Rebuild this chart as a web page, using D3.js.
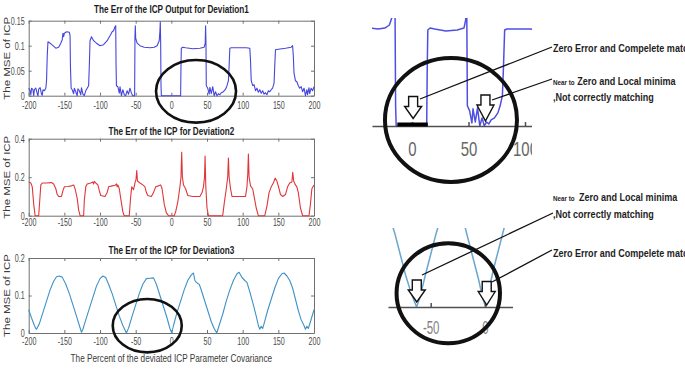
<!DOCTYPE html>
<html>
<head>
<meta charset="utf-8">
<script src="https://cdn.jsdelivr.net/npm/d3@7"></script>
<style>
    body { margin: 0; background: #fff; }
    svg { display: block; }
    text { font-family: "Liberation Sans", Arial, sans-serif; }
    .axis text { font-family: "Liberation Sans", Arial, sans-serif; font-size: 10.5px; fill: #4a4a4a; }
    .axis path, .axis line { stroke: #707070; }
    .title { font-weight: bold; font-size: 10.5px; fill: #1c1c1c; }
    .ylabel { font-size: 11.5px; fill: #3a3a3a; }
    .xlabel { font-size: 10.5px; fill: #3a3a3a; }
    .zoom-axis text { font-family: "Liberation Sans", Arial, sans-serif; }
    .zoom-axis path, .zoom-axis line { stroke: #505050; stroke-width: 1.5; }
    .note { font-weight: bold; font-size: 11.5px; fill: #1e1e1e; }
</style>
</head>
<body>
<div id="chart"></div>
<script>

// ---- values ----
const xTicks = [-200, -150, -100, -50, 0, 50, 100, 150, 200];
const yTicks1 = [0, 0.05, 0.1, 0.15];
const yTicks2 = [0, 0.2, 0.4];
const yTicks3 = [0, 0.1, 0.2];

const titles = [
    "The Err of the ICP Output for Deviation1",
    "The Err of the ICP for Deviation2",
    "The Err of the ICP for Deviation3"
];

// Deviation1 : [percent, MSE]
const dev1 = [
    [-200,0.015],[-198,0.01],[-197,0.002],[-196,0.015],[-194,0.012],[-193,0.0],[-192,0.012],[-190,0.015],
    [-188,0.004],[-187,0.0],[-186,0.013],[-184,0.016],[-182,0.003],[-181,0.001],[-180,0.012],[-178,0.01],
    [-176,0.015],[-175,0.03],[-174,0.08],[-173,0.108],[-170,0.105],[-166,0.1],[-162,0.095],[-158,0.097],
    [-155,0.105],[-153,0.112],[-152,0.125],[-151,0.118],[-150,0.125],[-147,0.128],[-143,0.127],[-142,0.12],
    [-141.5,0.06],[-140.5,0.015],[-139,0.012],[-137,0.004],[-136,0.015],[-134,0.008],[-132,0.0],[-131,0.014],
    [-129,0.01],[-127,0.002],[-126,0.016],[-124,0.003],[-122,0.0],[-120,0.01],[-118,0.015],[-116,0.02],
    [-115,0.06],[-114,0.11],[-112,0.118],[-109,0.11],[-105,0.105],[-100,0.1],[-95,0.102],[-90,0.11],
    [-86,0.12],[-83,0.128],[-81,0.13],[-79,0.138],[-78,0.14],[-77.5,0.06],[-77,0.02],[-75,0.018],
    [-73,0.005],[-72,0.018],[-70,0.0],[-68,0.012],[-66,0.002],[-64,0.0],[-62,0.01],[-60,0.003],
    [-58,0.015],[-56,0.005],[-54,0.0],[-51.5,0.0],[-51,0.12],[-50.5,0.14],[-50,0.115],[-48,0.105],
    [-44,0.1],[-38,0.097],[-30,0.096],[-24,0.097],[-20,0.1],[-17,0.11],[-16,0.13],[-15.5,0.148],
    [-15,0.11],[-14.5,0.02],[-14,0.0],[13,0.0],[13.5,0.06],[14,0.095],[16,0.097],[20,0.096],
    [30,0.094],[40,0.095],[46,0.097],[47.5,0.105],[48,0.14],[48.5,0.11],[49,0.02],[51,0.015],
    [53,0.003],[54,0.017],[56,0.004],[58,0.018],[60,0.0],[62,0.008],[64,0.0],[66,0.004],
    [68,0.002],[70,0.006],[73,0.008],[76,0.013],[78,0.02],[80,0.03],[81,0.06],[82,0.095],
    [84,0.096],[95,0.096],[105,0.096],[110,0.095],[111,0.07],[112,0.03],[114,0.02],[116,0.022],
    [118,0.01],[120,0.015],[122,0.007],[124,0.012],[126,0.005],[128,0.01],[130,0.003],[132,0.006],
    [134,0.002],[136,0.01],[138,0.008],[140,0.012],[142,0.015],[144,0.025],[145,0.06],[146,0.092],
    [150,0.093],[160,0.095],[168,0.097],[170,0.1],[171,0.08],[172,0.045],[174,0.03],[176,0.028],
    [178,0.02],[180,0.015],[182,0.018],[184,0.008],[186,0.015],[188,0.0],[190,0.012],[191,0.002],
    [193,0.016],[194,0.004],[196,0.015],[198,0.01],[200,0.018]
];

// Deviation2
const dev2 = [
    [-200,0.175],[-197,0.17],[-195,0.15],[-193,0.06],[-191,0.0],[-186,0.0],[-184.5,0.08],[-183,0.16],
    [-181,0.17],[-175,0.17],[-168,0.172],[-165,0.165],[-162,0.14],[-160,0.11],[-158,0.1],[-154,0.1],
    [-152,0.13],[-150,0.15],[-145,0.152],[-140,0.155],[-137,0.16],[-135,0.14],[-132,0.09],[-130,0.03],
    [-128,0.0],[-123,0.0],[-122,0.08],[-120,0.15],[-118,0.165],[-113,0.17],[-110,0.175],[-109,0.165],
    [-108,0.178],[-106,0.17],[-103,0.16],[-101,0.13],[-99,0.105],[-93,0.1],[-90,0.12],[-88,0.15],
    [-83,0.155],[-79,0.158],[-77,0.165],[-76,0.15],[-75,0.16],[-73,0.14],[-71,0.09],[-68,0.02],
    [-66,0.0],[-59,0.0],[-57,0.1],[-55.5,0.15],[-53,0.135],[-51,0.17],[-49.5,0.19],[-48.5,0.235],
    [-47.5,0.18],[-44,0.17],[-40,0.16],[-37,0.15],[-35,0.12],[-33,0.105],[-28,0.1],[-25,0.12],
    [-22,0.15],[-18,0.155],[-15,0.16],[-13,0.14],[-10,0.06],[-7,0.015],[-4,0.0],[4,0.0],
    [6,0.02],[9,0.07],[12,0.15],[13.5,0.2],[14.5,0.33],[15.5,0.2],[17,0.16],[20,0.14],
    [23,0.105],[30,0.1],[40,0.1],[43,0.12],[45,0.15],[46.5,0.2],[47.3,0.31],[48.3,0.15],
    [50,0.04],[52,0.0],[72,0.0],[74,0.06],[77,0.14],[79,0.2],[80,0.3],[81,0.2],
    [83,0.14],[85,0.1],[95,0.1],[104,0.1],[106,0.15],[107.2,0.22],[108,0.32],[109,0.2],
    [111,0.155],[114,0.14],[116,0.1],[119,0.04],[122,0.0],[131,0.0],[134,0.05],[137,0.12],
    [140,0.15],[143,0.17],[145.5,0.195],[148,0.18],[151,0.14],[153,0.11],[156,0.1],[160,0.11],
    [163,0.15],[166,0.17],[169,0.175],[170.2,0.225],[171.5,0.18],[174,0.16],[176,0.15],[178,0.12],
    [181,0.04],[184,0.0],[193,0.0],[195,0.06],[197,0.14],[200,0.16]
];

// Deviation3
const dev3 = [
    [-200,0.062],[-196,0.04],[-192,0.02],[-190,0.012],[-189,0.01],[-188,0.014],[-185,0.025],[-180,0.055],
    [-175,0.085],[-170,0.115],[-165,0.138],[-161,0.15],[-157,0.152],[-153,0.149],[-148,0.13],[-143,0.105],
    [-138,0.075],[-133,0.045],[-129,0.02],[-126,0.002],[-124,0.01],[-120,0.035],[-115,0.065],[-110,0.095],
    [-105,0.125],[-100,0.145],[-96,0.152],[-92,0.148],[-88,0.13],[-83,0.105],[-78,0.075],[-73,0.045],
    [-68,0.02],[-63,0.0],[-60,0.013],[-55,0.045],[-50,0.075],[-45,0.105],[-40,0.13],[-35,0.145],
    [-30,0.146],[-25,0.147],[-21,0.13],[-16,0.1],[-11,0.07],[-6,0.04],[-2,0.012],[0.6,0.0],
    [3,0.02],[8,0.055],[13,0.085],[18,0.115],[23,0.14],[28,0.155],[31,0.16],[33,0.14],
    [35,0.135],[37,0.132],[39,0.13],[41,0.12],[46,0.09],[51,0.06],[56,0.03],[60,0.012],
    [63.7,0.0],[67,0.02],[72,0.05],[77,0.085],[82,0.115],[87,0.14],[92,0.158],[95,0.162],
    [99,0.148],[103,0.14],[106,0.135],[110,0.11],[115,0.075],[119,0.045],[122,0.02],[124,0.01],
    [126,0.018],[128,0.012],[130,0.025],[135,0.06],[140,0.09],[145,0.12],[150,0.145],[155,0.158],
    [158,0.16],[162,0.152],[166,0.14],[170,0.12],[174,0.09],[178,0.06],[182,0.035],[186,0.02],
    [188,0.01],[190,0.018],[192,0.012],[195,0.03],[200,0.062]
];

// zoomed views
const zoomTicks1 = [0, 50, 100];
const zoomTicks3 = [-50, 0];
const zeroSpan = [-13, 14];


const W = 685, H = 370;
const svg = d3.select("#chart").append("svg")
    .attr("width", W)
    .attr("height", H);

svg.append("rect").attr("width", W).attr("height", H).attr("fill", "#fff");

// the source picture is squashed sideways, so squash the text the same way
function squeeze(sel, sx) {
    sel.each(function () {
        let t = d3.select(this);
        let x = +t.attr("x") || 0, y = +t.attr("y") || 0;
        t.attr("x", null).attr("y", null)
            .attr("transform", `translate(${x},${y}) scale(${sx},1)`);
    });
}


class ErrPanel {

    constructor(svg, box, data, opts) {
        this.svg = svg;
        this.box = box;
        this.data = data;
        this.opts = opts;
        this.initVis();
    }

    initVis() {
        let vis = this;
        vis.width = vis.box.right - vis.box.left;
        vis.height = vis.box.bottom - vis.box.top;

        vis.g = vis.svg.append("g")
            .attr("transform", `translate(${vis.box.left},${vis.box.top})`);

        vis.x = d3.scaleLinear().domain([-200, 200]).range([0, vis.width]);
        vis.y = d3.scaleLinear()
            .domain([0, d3.max(vis.opts.yTicks)])
            .range([vis.height, 0]);

        // matlab style box, ticks pointing inside
        let xb = vis.g.append("g").attr("class", "axis")
            .attr("transform", `translate(0,${vis.height})`)
            .call(d3.axisBottom(vis.x).tickValues(xTicks).tickSize(-3).tickSizeOuter(0)
                .tickPadding(vis.opts.pad).tickFormat(d => String(d)));
        vis.g.append("g").attr("class", "axis")
            .call(d3.axisTop(vis.x).tickValues(xTicks).tickSize(-3).tickSizeOuter(0).tickFormat(""));
        let yl = vis.g.append("g").attr("class", "axis")
            .call(d3.axisLeft(vis.y).tickValues(vis.opts.yTicks).tickSize(-3).tickSizeOuter(0)
                .tickPadding(4).tickFormat(d => String(d)));
        vis.g.append("g").attr("class", "axis")
            .attr("transform", `translate(${vis.width},0)`)
            .call(d3.axisRight(vis.y).tickValues(vis.opts.yTicks).tickSize(-3).tickSizeOuter(0).tickFormat(""));
        squeeze(xb.selectAll("text"), 0.68);
        squeeze(yl.selectAll("text"), 0.68);

        vis.line = d3.line()
            .x(d => vis.x(d[0]))
            .y(d => vis.y(d[1]));

        vis.g.append("path")
            .datum(vis.data)
            .attr("d", vis.line)
            .attr("fill", "none")
            .attr("stroke", vis.opts.color)
            .attr("stroke-width", 1.1)
            .attr("stroke-linejoin", "round");

        let title = vis.g.append("text")
            .attr("class", "title")
            .attr("x", vis.width / 2)
            .attr("y", vis.opts.titleY - vis.box.top)
            .attr("text-anchor", "middle")
            .text(vis.opts.title);
        squeeze(title, 0.78);

        vis.g.append("text")
            .attr("class", "ylabel")
            .attr("transform", `translate(${9.5 - vis.box.left},${vis.height / 2}) rotate(-90) scale(1,0.78)`)
            .attr("text-anchor", "middle")
            .text("The MSE of ICP");
    }

    circle(cx, cy, rx, ry) {
        let vis = this;
        vis.g.append("ellipse")
            .attr("cx", vis.x(cx)).attr("cy", vis.y(cy))
            .attr("rx", rx).attr("ry", ry)
            .attr("fill", "none").attr("stroke", "#111").attr("stroke-width", 2.6);
    }
}


class ZoomInset {

    constructor(svg, id, data, opts) {
        this.svg = svg;
        this.id = id;
        this.data = data;
        this.opts = opts;
        this.initVis();
    }

    initVis() {
        let vis = this;
        let o = vis.opts;

        vis.x = d3.scaleLinear().domain(o.xDomain).range([o.left, o.right]);
        vis.y = d3.scaleLinear().domain([0, 0.1]).range([o.base, o.base - o.ky * 0.1]);

        vis.svg.append("clipPath").attr("id", vis.id)
            .append("rect")
            .attr("x", o.left).attr("y", o.top)
            .attr("width", o.right - o.left).attr("height", o.base + 40 - o.top);

        vis.g = vis.svg.append("g").attr("clip-path", `url(#${vis.id})`);

        vis.g.append("path")
            .datum(vis.data)
            .attr("d", d3.line().x(d => vis.x(d[0])).y(d => vis.y(d[1])))
            .attr("fill", "none")
            .attr("stroke", o.color)
            .attr("stroke-width", 1.5)
            .attr("stroke-linejoin", "round");

        let ax = vis.g.append("g").attr("class", "zoom-axis")
            .attr("transform", `translate(0,${o.base})`)
            .call(d3.axisBottom(vis.x).tickValues(o.ticks).tickSize(-4).tickSizeOuter(0)
                .tickPadding(o.pad).tickFormat(d => String(d)));
        ax.selectAll("text")
            .style("font-size", o.fontSize + "px")
            .style("fill", o.labelColor);
        squeeze(ax.selectAll("text"), o.sx);
    }

    arrow(v, top, tip) {
        let vis = this;
        let cx = vis.x(v);
        let hs = 10;
        let pts = [[cx - 4.5, top], [cx + 4.5, top], [cx + 4.5, top + hs], [cx + 8.5, top + hs],
                   [cx, tip], [cx - 8.5, top + hs], [cx - 4.5, top + hs]];
        vis.svg.append("path")
            .attr("d", "M" + pts.join("L") + "Z")
            .attr("fill", "#fff")
            .attr("stroke", "#111")
            .attr("stroke-width", 1.4);
    }

    circle(cx, cy, rx, ry) {
        let vis = this;
        vis.svg.append("ellipse")
            .attr("cx", vis.x(cx)).attr("cy", vis.y(cy))
            .attr("rx", rx).attr("ry", ry)
            .attr("fill", "none").attr("stroke", "#111").attr("stroke-width", 4);
    }
}


// ---- left column: three panels ----
const p1 = new ErrPanel(svg, {left: 28.7, right: 314, top: 20.7, bottom: 95.7}, dev1,
    {yTicks: yTicks1, color: "#4646dc", title: titles[0], titleY: 13, pad: 6});
const p2 = new ErrPanel(svg, {left: 28.7, right: 314, top: 138.7, bottom: 215.7}, dev2,
    {yTicks: yTicks2, color: "#e0363a", title: titles[1], titleY: 135, pad: 3});
const p3 = new ErrPanel(svg, {left: 28.7, right: 314, top: 258, bottom: 333}, dev3,
    {yTicks: yTicks3, color: "#3f92c4", title: titles[2], titleY: 254, pad: 5});

let xlab = p3.g.append("text")
    .attr("class", "xlabel")
    .attr("x", p3.width / 2)
    .attr("y", 362 - p3.box.top)
    .attr("text-anchor", "middle")
    .text("The Percent of the deviated ICP Parameter Covariance");
squeeze(xlab, 0.785);

p1.circle(34.6, 0.0088, 40, 31.3);
p3.circle(-33.8, 0.0195, 34.5, 26.7);


// ---- right column: zoomed views ----
const z1 = new ZoomInset(svg, "clip-z1", dev1, {
    xDomain: [-35.4, 106.2], left: 372, right: 532, top: 18, base: 126, ky: 1010,
    ticks: zoomTicks1, pad: 15, fontSize: 21, sx: 0.71, labelColor: "#666", color: "#4f4fe4"
});
svg.append("line")
    .attr("x1", z1.x(zeroSpan[0])).attr("x2", z1.x(zeroSpan[1]))
    .attr("y1", z1.y(0) - 1.5).attr("y2", z1.y(0) - 1.5)
    .attr("stroke", "#000").attr("stroke-width", 4);

const z3 = new ZoomInset(svg, "clip-z3", dev3, {
    xDomain: [-89.3, 25.8], left: 388, right: 513, top: 228, base: 307, ky: 700,
    ticks: zoomTicks3, pad: 14, fontSize: 18.5, sx: 0.62, labelColor: "#808080", color: "#6aa6cf"
});

z1.arrow(1, 96.5, 118.5);
z1.arrow(65, 95, 121);
z3.arrow(-62.8, 280, 302);
z3.arrow(1.6, 281.5, 305);

// leader lines
const leaders = [
    [420, 99, 552, 47], [492, 100, 552, 79],
    [422, 275, 553, 213], [492, 282, 552, 250]
];
svg.selectAll(".leader")
    .data(leaders)
    .join("line")
    .attr("class", "leader")
    .attr("x1", d => d[0]).attr("y1", d => d[1])
    .attr("x2", d => d[2]).attr("y2", d => d[3])
    .attr("stroke", "#111").attr("stroke-width", 1.3);

z1.circle(34.5, 0.006, 66, 62);
z3.circle(-33.8, 0.0196, 51.7, 50);

// notes
function noteZero(y) {
    let t = svg.append("text").attr("class", "note").attr("x", 553).attr("y", y)
        .text("Zero Error and Compelete match");
    squeeze(t, 0.786);
}
function noteLocal(y1, y2, gap) {
    let t = svg.append("text").attr("class", "note").attr("x", 553).attr("y", y1);
    t.append("tspan").style("font-size", "8px").text("Near to" + gap);
    t.append("tspan").text(" Zero and Local minima");
    squeeze(t, 0.786);
    let t2 = svg.append("text").attr("class", "note").attr("x", 553).attr("y", y2)
        .text(",Not correctly matching");
    squeeze(t2, 0.786);
}

noteZero(52);
noteLocal(85, 101, "");
noteLocal(201, 218, "\u00a0");
noteZero(257);

</script>
</body>
</html>
